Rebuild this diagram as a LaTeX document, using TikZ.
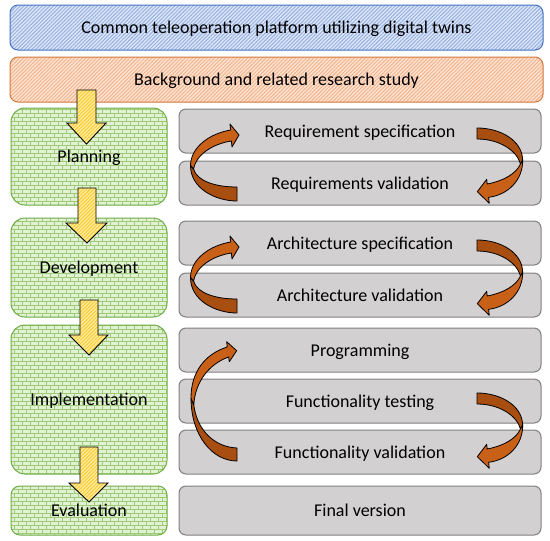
\documentclass[tikz,border=0pt]{standalone}
\usepackage{fontspec}
\setmainfont{Carlito}
\usetikzlibrary{patterns,patterns.meta}
\definecolor{blueD}{RGB}{68,114,196}
\definecolor{blueL}{RGB}{222,231,247}
\definecolor{blueM}{RGB}{150,176,224}
\definecolor{orD}{RGB}{210,120,60}
\definecolor{orL}{RGB}{252,228,214}
\definecolor{orM}{RGB}{244,180,138}
\definecolor{grD}{RGB}{112,173,71}
\definecolor{grL}{RGB}{226,240,214}
\definecolor{grM}{RGB}{158,204,116}
\definecolor{gyD}{RGB}{128,128,128}
\definecolor{gyL}{RGB}{210,208,208}
\definecolor{yeL}{RGB}{255,236,160}
\definecolor{yeM}{RGB}{250,200,40}
\definecolor{arF}{RGB}{200,96,24}
\definecolor{arB}{RGB}{168,78,16}
\pgfdeclarepatternformonly{mybricks}{\pgfqpoint{-0.5pt}{-0.5pt}}{\pgfqpoint{8.5pt}{8.5pt}}{\pgfqpoint{8pt}{8pt}}{%
  \pgfsetlinewidth{0.9pt}%
  \pgfpathmoveto{\pgfqpoint{0pt}{0pt}}\pgfpathlineto{\pgfqpoint{8pt}{0pt}}%
  \pgfpathmoveto{\pgfqpoint{0pt}{4pt}}\pgfpathlineto{\pgfqpoint{8pt}{4pt}}%
  \pgfpathmoveto{\pgfqpoint{2pt}{0pt}}\pgfpathlineto{\pgfqpoint{2pt}{4pt}}%
  \pgfpathmoveto{\pgfqpoint{6pt}{4pt}}\pgfpathlineto{\pgfqpoint{6pt}{8pt}}%
  \pgfusepath{stroke}}
\tikzset{
  txt/.style={font=\fontsize{18}{22}\selectfont, text=black, inner sep=0pt, align=center,
    text height=14pt, text depth=2pt},
  bluebox/.style={txt, rectangle, rounded corners=8pt, draw=blueD, line width=1pt,
    preaction={fill=blueL},
    preaction={pattern={Lines[angle=45,distance=2.6pt,line width=1pt]}, pattern color=blueM}},
  orbox/.style={txt, rectangle, rounded corners=8pt, draw=orD, line width=1pt,
    preaction={fill=orL},
    preaction={pattern={Lines[angle=45,distance=2.6pt,line width=1pt]}, pattern color=orM}},
  grbox/.style={txt, rectangle, rounded corners=14pt, draw=grD, line width=1pt,
    preaction={fill=grL},
    preaction={pattern=mybricks, pattern color=grM}},
  gybox/.style={txt, rectangle, rounded corners=7pt, draw=gyD, line width=1pt, fill=gyL,
    minimum width=362pt},
  yarrow/.style={draw=black, line width=0.9pt, line join=miter,
    preaction={fill=yeL},
    preaction={pattern={Lines[angle=45,distance=2.5pt,line width=0.9pt]}, pattern color=yeM}},
  afront/.style={fill=arF, draw=black, line width=0.8pt, line join=round},
  aback/.style={fill=arB, draw=black, line width=0.8pt, line join=round}
}
\newcommand\yellowarrow[8]{%
  \path[yarrow] (#1,#3) -- (#2,#3) -- (#2,#4) -- (#6,#4) -- (#7,#8) -- (#5,#4) -- (#1,#4) -- cycle;}
\newcommand\leftarrowA{%
  \path[aback] (190.5,165) .. controls (190,188) and (215,201) .. (237,201) -- (237,187)
     .. controls (215,187) and (197,181) .. (193.5,169) -- cycle;
  \path[afront] (190.5,165) .. controls (191,148) and (208,134) .. (230.6,130) -- (230,124)
     -- (239,135) -- (232,147) -- (231.4,141) .. controls (212,144) and (196,155) .. (193.5,169) -- cycle;}
\newcommand\rightarrowA{%
  \path[aback] (477,128) .. controls (500,128) and (522,140) .. (522.7,160) -- (520.5,164)
     .. controls (517,151) and (500,139) .. (477,139) -- cycle;
  \path[afront] (522.7,160) .. controls (523,180) and (508,195) .. (488.6,197.3) -- (489.3,203.3)
     -- (477.3,191.7) -- (486.7,179.3) -- (487.2,184) .. controls (503,181) and (516,174) .. (520.5,164) -- cycle;}
\begin{document}
\begin{tikzpicture}[x=1pt,y=-1pt]
\useasboundingbox (0,0) rectangle (550,541);
\fill[white] (0,0) rectangle (550,541);
% top bars
\node[bluebox, minimum width=533pt, minimum height=45pt] (top) at (276.5,27.5) {Common teleoperation platform utilizing digital twins};
\node[orbox, minimum width=533pt, minimum height=45pt] (bg) at (276.5,79.5) {Background and related research study};
% phases
\node[grbox, minimum width=156pt, minimum height=97pt] (plan) at (89,156.5) {Planning};
\node[grbox, minimum width=156pt, minimum height=99pt] (dev) at (89,267.5) {Development};
\node[grbox, minimum width=156pt, minimum height=149pt] (impl) at (89,399.5) {Implementation};
\node[grbox, rounded corners=9pt, minimum width=156pt, minimum height=49pt] (eval) at (89,510.5) {Evaluation};
% steps
\node[gybox, minimum height=44pt] (rs) at (360,131) {Requirement specification};
\node[gybox, minimum height=44pt] (rv) at (360,183) {Requirements validation};
\node[gybox, minimum height=44pt] (as) at (360,243) {Architecture specification};
\node[gybox, minimum height=44pt] (av) at (360,295) {Architecture validation};
\node[gybox, minimum height=44pt] (pg) at (360,350) {Programming};
\node[gybox, minimum height=44pt] (ft) at (360,401) {Functionality testing};
\node[gybox, minimum height=44pt] (fv) at (360,452) {Functionality validation};
\node[gybox, minimum height=49pt] (fn) at (360,510.5) {Final version};
% yellow arrows
\yellowarrow{77}{96}{90}{123}{67}{106}{86.5}{144}
\yellowarrow{78}{96}{188}{223}{66}{107}{87}{243}
\yellowarrow{80}{98}{300}{335}{69}{108}{89}{355}
\yellowarrow{80}{98}{447}{483}{69}{108}{89}{502}
% orange cycle arrows
\leftarrowA
\rightarrowA
\begin{scope}[yshift=-112pt]
\leftarrowA
\rightarrowA
\end{scope}
\path[aback] (191,398) .. controls (191,435) and (212,461) .. (237,461) -- (237,448)
   .. controls (214,447) and (197,430) .. (193.8,405) -- cycle;
\path[afront] (191,398) .. controls (191,372) and (205,354) .. (227.2,347) -- (226.7,341.7)
   -- (236.7,350.7) -- (229.3,361.7) -- (228.6,357) .. controls (209,364) and (195,382) .. (193.8,405) -- cycle;
\begin{scope}[yshift=-265pt]
\rightarrowA
\end{scope}
\end{tikzpicture}
\end{document}
